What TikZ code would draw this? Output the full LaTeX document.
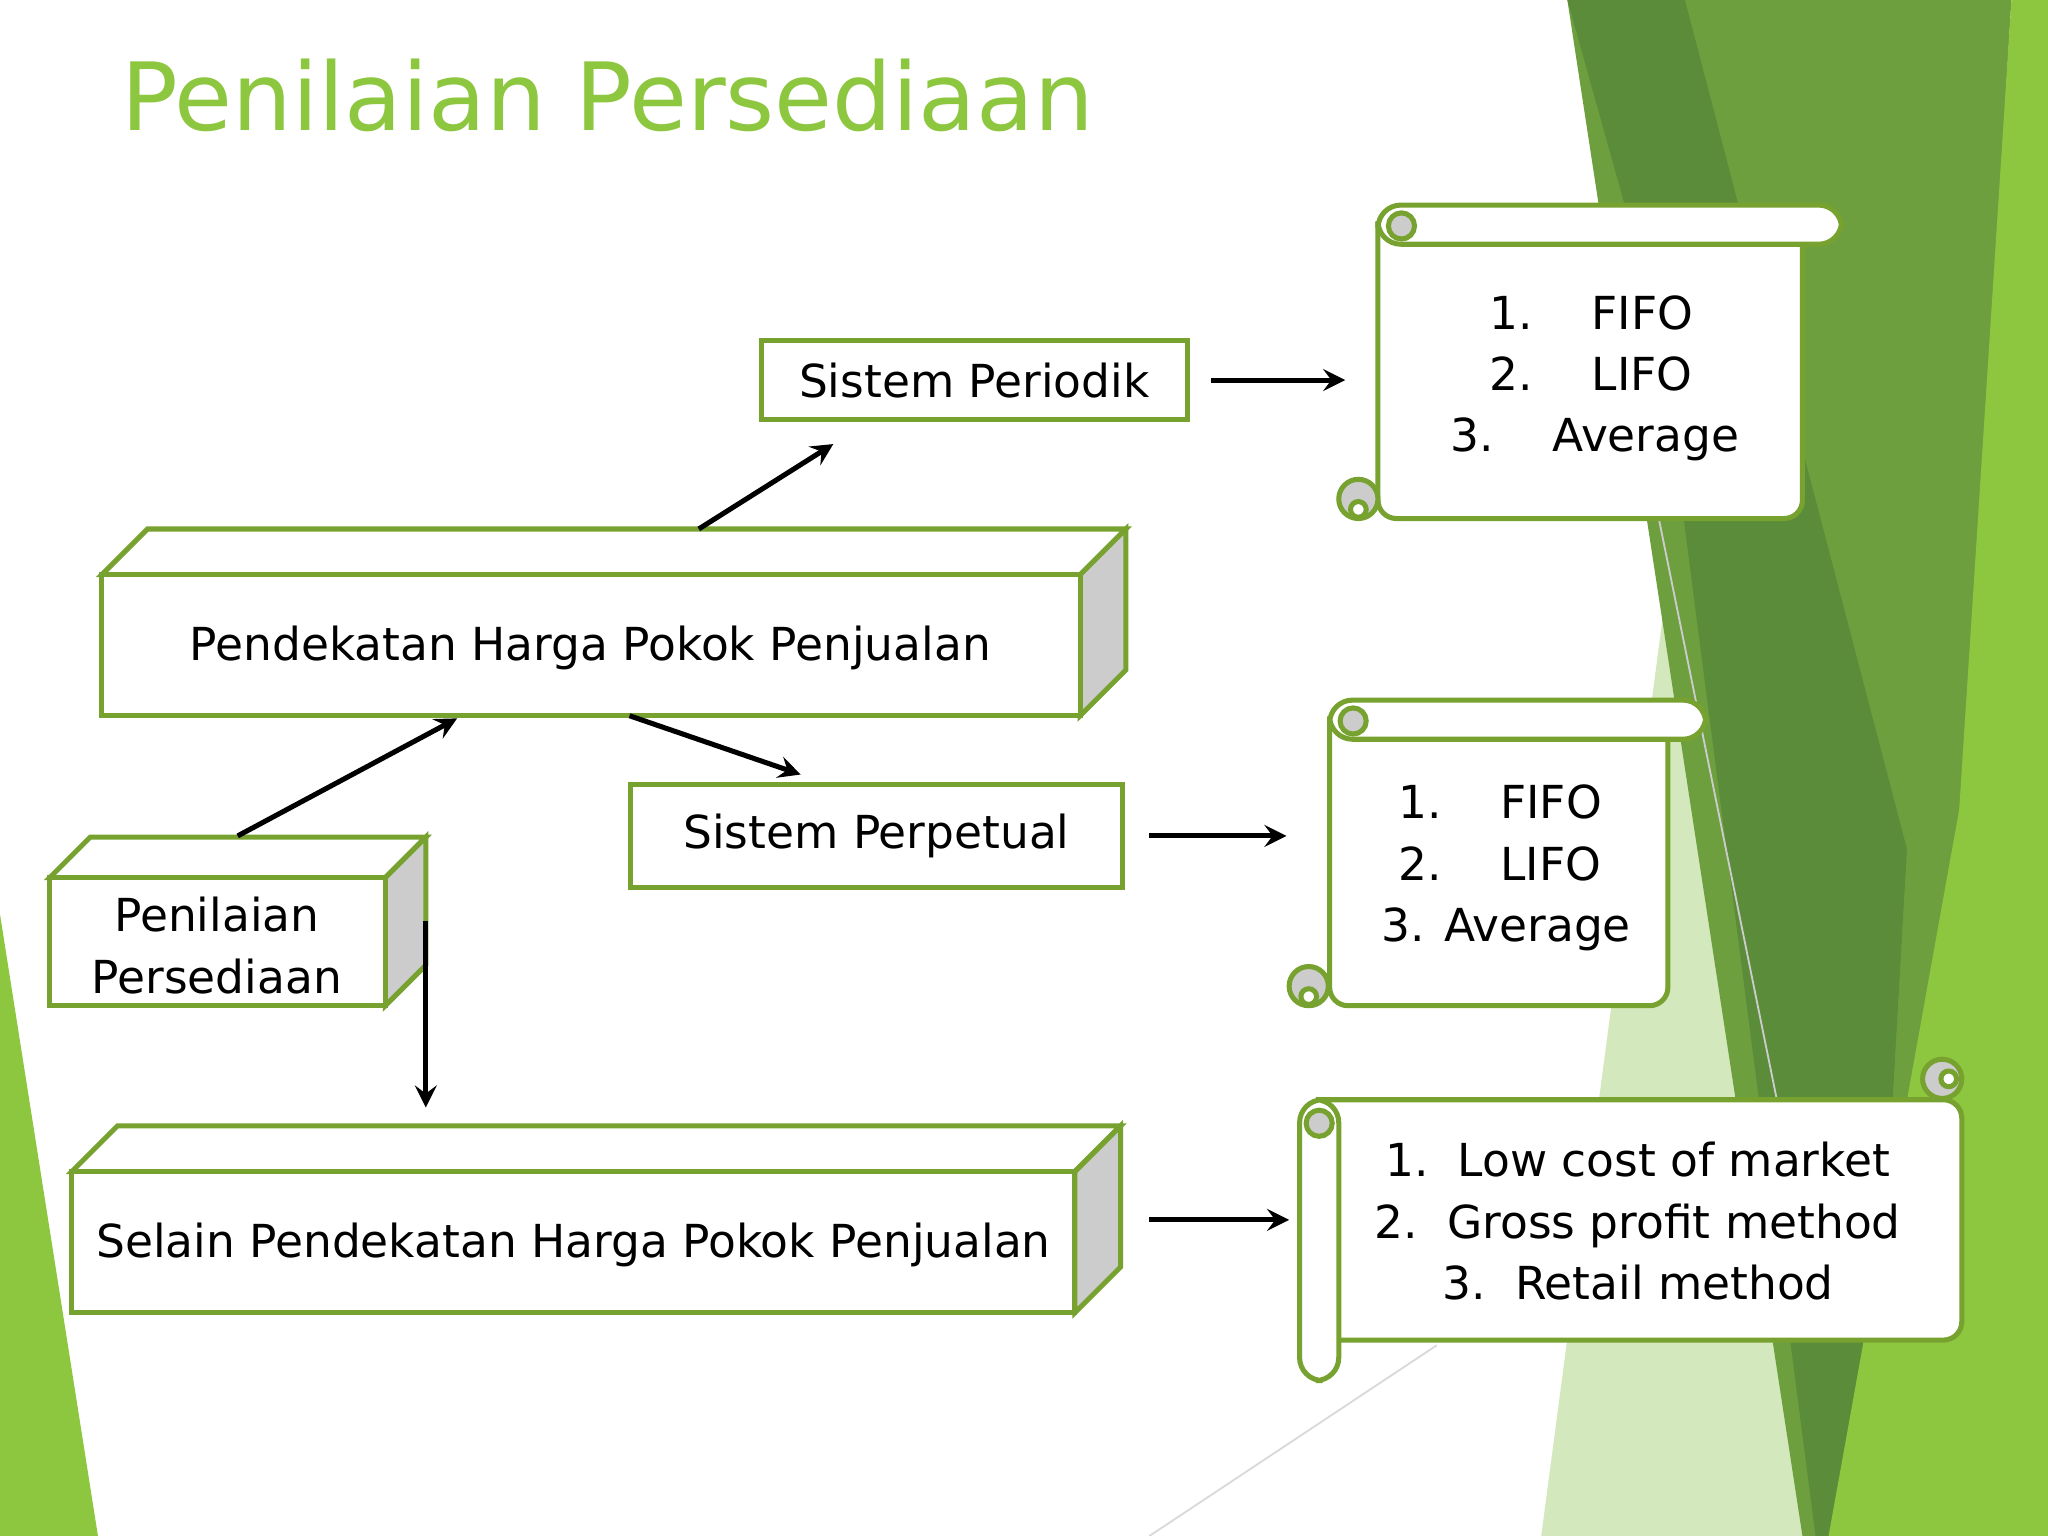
\documentclass[tikz,border=0pt]{standalone}
\usepackage{fontspec}
\setmainfont{DejaVu Sans}
\definecolor{lgreen}{HTML}{8DC63F}
\definecolor{bgreen}{HTML}{77A22F}
\definecolor{dgreen}{HTML}{5B8C3A}
\definecolor{mgreen}{HTML}{6E9F3E}
\definecolor{pgreen}{HTML}{D3E8BC}
\tikzset{
  box/.style={draw=bgreen, line width=1.1pt},
  side/.style={draw=bgreen, line width=1.1pt, fill=gray!40},
  lbl/.style={font=\fontsize{9.9}{13.5}\selectfont, inner sep=0pt},
  item/.style={lbl, anchor=base west},
  arr/.style={-stealth, line width=1.1pt},
}
\begin{document}
\begin{tikzpicture}[x=0.01cm, y=-0.01cm]
    \useasboundingbox (0,0) rectangle (1568,1176);
    % background
    \fill[pgreen] (1280,420) -- (1568,230) -- (1568,1176) -- (1180,1176) -- cycle;
    \fill[mgreen] (1200,0) -- (1540,0) -- (1470,1176) -- (1380,1176) -- cycle;
    \fill[dgreen] (1200,0) -- (1290,0) -- (1460,650) -- (1430,1176) -- (1390,1176) -- (1270,250) -- cycle;
    \fill[lgreen] (1540,0) -- (1568,0) -- (1568,1176) -- (1400,1176) -- (1500,620) -- cycle;
    \fill[lgreen] (0,700) -- (75,1176) -- (0,1176) -- cycle;
    \draw[gray!40] (1230,200) -- (1360,840);
    \draw[gray!30] (880,1176) -- (1100,1030);

    \node[anchor=base west, text=lgreen, font=\fontsize{20.5}{24}\selectfont, inner sep=0pt] (title) at (92,100) {Penilaian Persediaan};

    % cuboids
    \draw[box, fill=white] (78,440) -- (113,405) -- (862,405) -- (827,440) -- cycle;
    \draw[side] (827,440) -- (862,405) -- (862,513) -- (827,548) -- cycle;
    \draw[box, fill=white] (78,440) rectangle (827,548);
    \node[lbl] (hpp) at (452,496) {Pendekatan Harga Pokok Penjualan};

    \draw[box, fill=white] (38,672) -- (69,641) -- (326,641) -- (295,672) -- cycle;
    \draw[side] (295,672) -- (326,641) -- (326,739) -- (295,770) -- cycle;
    \draw[box, fill=white] (38,672) rectangle (295,770);
    \node[lbl, align=center] (nilai) at (166,724) {Penilaian\\Persediaan};

    \draw[box, fill=white] (55,897) -- (90,862) -- (858,862) -- (823,897) -- cycle;
    \draw[side] (823,897) -- (858,862) -- (858,970) -- (823,1005) -- cycle;
    \draw[box, fill=white] (55,897) rectangle (823,1005);
    \node[lbl] (selain) at (439,953) {Selain Pendekatan Harga Pokok Penjualan};

    % plain boxes
    \node[box, lbl, minimum width=3.26cm, minimum height=0.6cm] (periodik) at (746,291) {Sistem Periodik};
    \node[box, lbl, minimum width=3.76cm, minimum height=0.79cm] (perpetual) at (671,640) {Sistem Perpetual};

    % scroll 1
    \draw[box, fill=white, rounded corners=4pt] (1055,170) -- (1055,397) -- (1380,397) -- (1380,170);
    \draw[box, fill=white, rounded corners=5pt] (1055,157) rectangle (1410,187);
    \draw[box, fill=gray!40] (1073,173) circle (10);
    \draw[box, fill=gray!40] (1040,382) circle (15);
    \draw[box, fill=white] (1040,390) circle (6);
    \node[item] (p1) at (1140,252) {1.};
    \node[item] (p1t) at (1218,252) {FIFO};
    \node[item] (p2) at (1140,299) {2.};
    \node[item] (p2t) at (1218,299) {LIFO};
    \node[item] (p3) at (1110,346) {3.};
    \node[item] (p3t) at (1188,346) {Average};

    % scroll 2
    \draw[box, fill=white, rounded corners=4pt] (1018,550) -- (1018,770) -- (1277,770) -- (1277,550);
    \draw[box, fill=white, rounded corners=5pt] (1018,536) rectangle (1306,566);
    \draw[box, fill=gray!40] (1036,552) circle (10);
    \draw[box, fill=gray!40] (1002,755) circle (15);
    \draw[box, fill=white] (1002,763) circle (6);
    \node[item] (q1) at (1070,627) {1.};
    \node[item] (q1t) at (1148,627) {FIFO};
    \node[item] (q2) at (1070,674) {2.};
    \node[item] (q2t) at (1148,674) {LIFO};
    \node[item] (q3) at (1057,721) {3. Average};

    % scroll 3
    \draw[box, fill=white, rounded corners=4pt] (1010,842) -- (1502,842) -- (1502,1026) -- (1010,1026);
    \draw[box, fill=white, rounded corners=5pt] (995,842) rectangle (1025,1057);
    \draw[box, fill=gray!40] (1010,860) circle (10);
    \draw[box, fill=gray!40] (1487,826) circle (15);
    \draw[box, fill=white] (1492,826) circle (6);
    \node[item] (r1) at (1060,901) {1.\ \ Low cost of market};
    \node[item] (r2) at (1052,948) {2.\ \ Gross profit method};
    \node[item] (r3) at (1104,995) {3.\ \ Retail method};

    % arrows
    \coordinate (a1) at (535,405); \coordinate (a1e) at (638,340);
    \coordinate (a2) at (927,291); \coordinate (a2e) at (1030,291);
    \coordinate (a3) at (182,640); \coordinate (a3e) at (350,550);
    \coordinate (a4) at (482,548); \coordinate (a4e) at (613,593);
    \coordinate (a5) at (880,640); \coordinate (a5e) at (985,640);
    \coordinate (a6) at (326,705); \coordinate (a6e) at (326,848);
    \coordinate (a7) at (880,934); \coordinate (a7e) at (987,934);
    \foreach \s in {a1,a2,a3,a4,a5,a6,a7}
        \draw[arr] (\s) -- (\s e);
\end{tikzpicture}
\end{document}
